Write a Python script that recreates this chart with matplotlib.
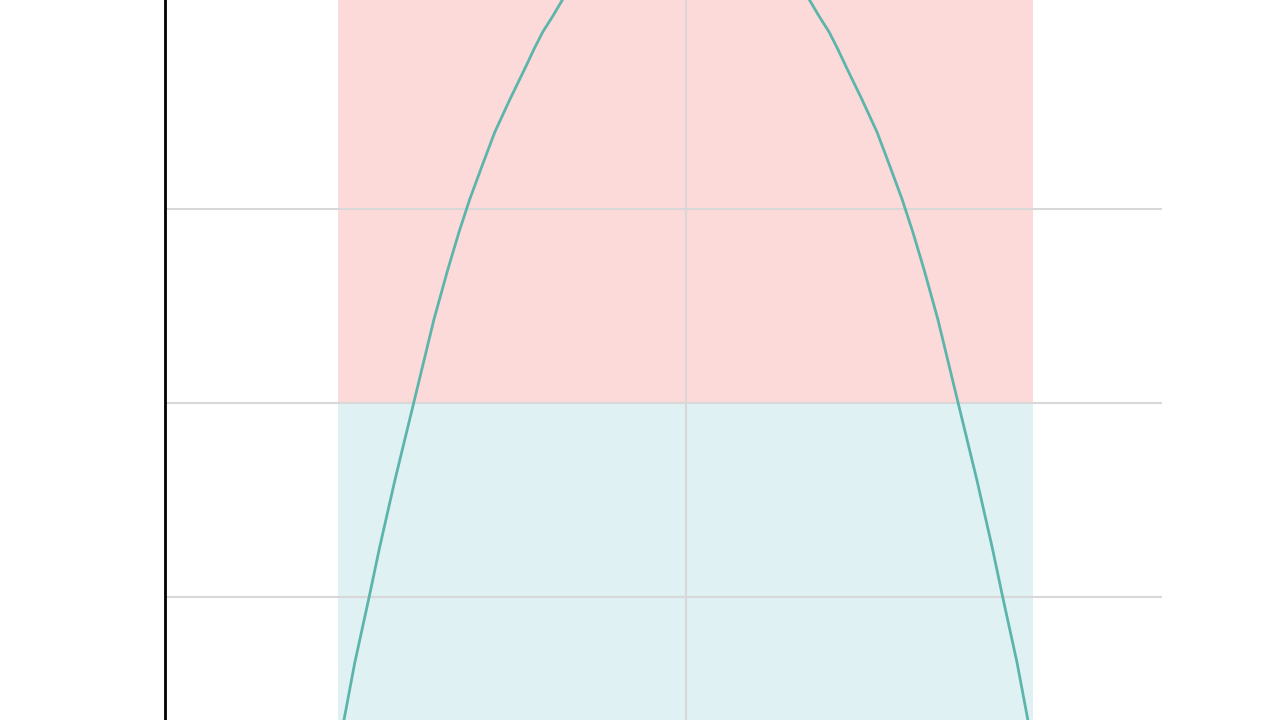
import matplotlib as mpl
mpl.use('Agg')
import matplotlib.pyplot as plt

# curve: y levels and the x of each branch at that level
curve_y = [4.085, 3.997, 3.915, 3.827, 3.739, 3.569, 3.398, 3.222, 3.052,
           2.882, 2.690, 2.432, 2.173, 2.003, 1.605, 1.258, 0.995, 0.659, 0.364]
left_x = [-0.354, -0.383, -0.412, -0.437, -0.460, -0.506, -0.550, -0.587, -0.622,
          -0.653, -0.685, -0.725, -0.760, -0.783, -0.837, -0.881, -0.912, -0.953, -0.984]
right_x = [0.354, 0.383, 0.412, 0.437, 0.460, 0.506, 0.550, 0.587, 0.622,
           0.653, 0.685, 0.725, 0.760, 0.783, 0.837, 0.881, 0.912, 0.953, 0.984]

# shaded band: x range and split level
band_x = [-1.0, 1.0]
split_y = 2.0
x_range = [-1.499, 1.370]
y_range = [0.364, 4.08]
y_grid = [1, 2, 3]
x_grid = [0]

fig = plt.figure(figsize=(12.8, 7.2), dpi=100)
ax = fig.add_axes([165 / 1280, 0, (1162 - 165) / 1280, 1])

ax.fill_between(band_x, split_y, y_range[1], color='#fddada', lw=0, zorder=0)
ax.fill_between(band_x, y_range[0], split_y, color='#e0f1f3', lw=0, zorder=0)

for xs in (left_x, right_x):
    ax.plot(xs, curve_y, color='#5cb5aa', lw=2.0, zorder=3, solid_joinstyle='round')

ax.set_xlim(x_range)
ax.set_ylim(y_range)
ax.set_xticks(x_grid)
ax.set_yticks(y_grid)
ax.set_xticklabels([])
ax.set_yticklabels([])
ax.tick_params(length=0)
ax.grid(True, color='#d8d8d8', lw=1.5, zorder=1)
ax.set_axisbelow(False)

for side in ['top', 'right', 'bottom']:
    ax.spines[side].set_visible(False)
ax.spines['left'].set_linewidth(2)
ax.spines['left'].set_color('black')
ax.spines['left'].set_zorder(4)

plt.savefig('out.png')
plt.close()
